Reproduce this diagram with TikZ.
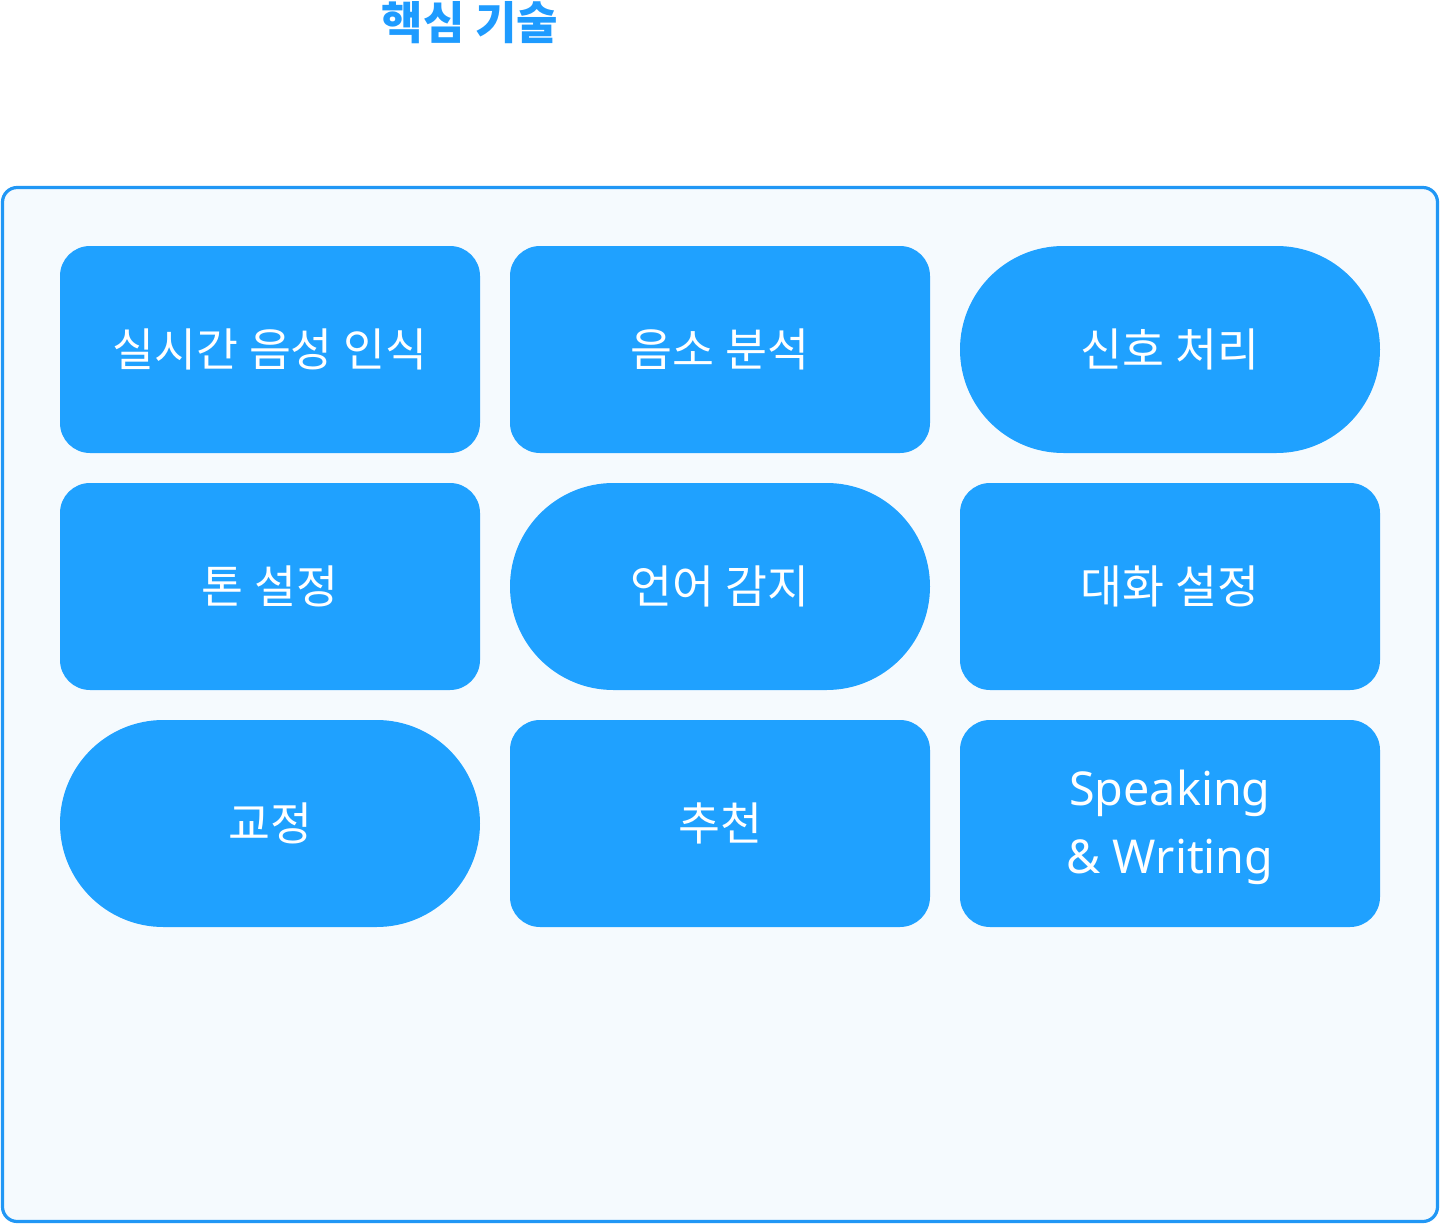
\documentclass[tikz,border=0pt]{standalone}
\usepackage{fontspec}
\setmainfont{Noto Sans CJK KR}
\newfontfamily\latinfont{Noto Sans}
\usetikzlibrary{positioning}
\definecolor{tilefill}{HTML}{1FA1FF}
\definecolor{frameline}{HTML}{2197F5}
\definecolor{framefill}{HTML}{F5FAFE}
\definecolor{titleblue}{HTML}{1E9BFF}

\begin{document}
\begin{tikzpicture}[
  x=0.75pt, y=-0.75pt,
  tile/.style={fill=tilefill, text=white, rounded corners=22.5pt,
    minimum width=315pt, minimum height=155.25pt, inner sep=0pt, outer sep=0pt,
    align=center, font=\fontsize{34.2}{50}\selectfont},
  pill/.style={tile, rounded corners=77.6pt},
  node distance=22.5pt and 22.5pt
]
\useasboundingbox (0,0) rectangle (1440,1224);
\draw[frameline, fill=framefill, line width=2.4pt, rounded corners=11pt]
  (2.5,187.5) rectangle (1437.5,1221.5);

\node[anchor=base, text=titleblue, font=\fontsize{33.8}{40}\selectfont\bfseries] (title) at (470,40) {핵심 기술};

\node[tile] (stt) at (270,349.5) {실시간 음성 인식};
\node[tile, right=of stt] (phoneme) {음소 분석};
\node[pill, right=of phoneme] (signal) {신호 처리};
\node[tile, below=of stt] (tone) {톤 설정};
\node[pill, right=of tone] (langid) {언어 감지};
\node[tile, right=of langid] (dialog) {대화 설정};
\node[pill, below=of tone] (correct) {교정};
\node[tile, right=of correct] (recommend) {추천};
\node[tile, right=of recommend, font=\latinfont\fontsize{35}{51}\selectfont] (skills) {\rule{0pt}{32pt}Speaking\\\& Writing};
\end{tikzpicture}
\end{document}
